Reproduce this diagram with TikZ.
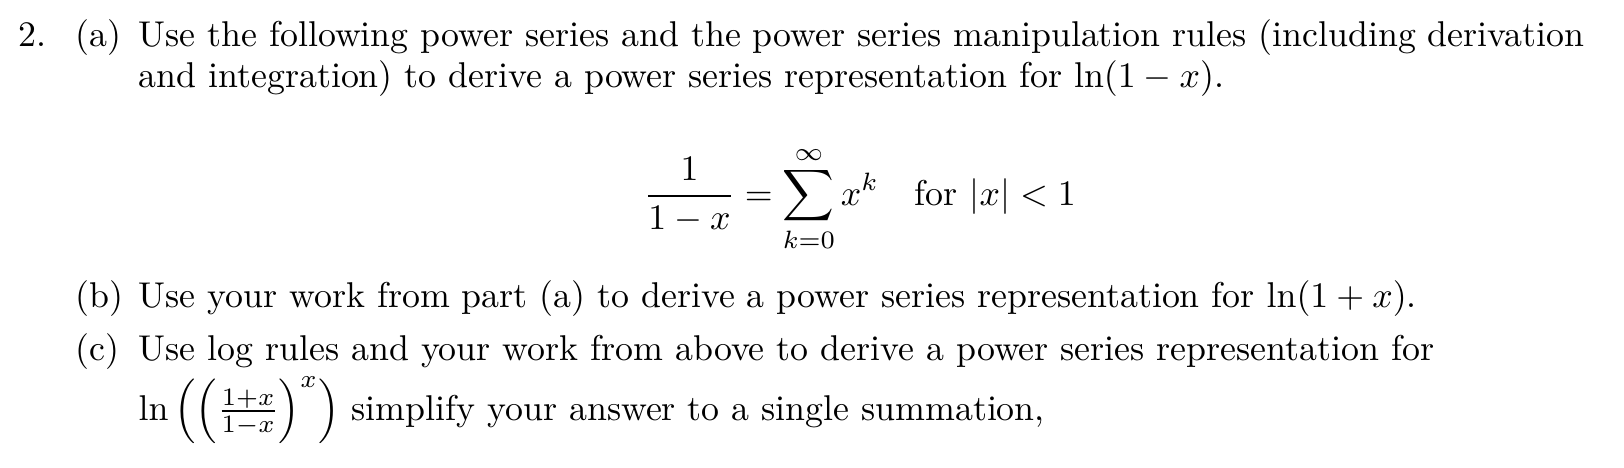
\documentclass[tikz,border=0pt]{standalone}
\usepackage{amsmath}
\begin{document}
\begin{tikzpicture}[x=1pt,y=-1pt,txt/.style={anchor=base west,inner sep=0pt,scale=3.585,transform shape,font=\fontsize{10}{12}\selectfont}]
\useasboundingbox (0,0) rectangle (1624,468);
\node[txt] (n) at (18,47) {2.};
\node[txt] (a) at (75,47) {(a)};
\node[txt] (a1) at (138,47) {Use the following power series and the power series manipulation rules (including derivation};
\node[txt] (a2) at (138,88) {and integration) to derive a power series representation for $\ln(1-x)$.};
\node[txt,anchor=base] (eq) at (860,205) {$\displaystyle \frac{1}{1-x}=\sum_{k=0}^{\infty} x^k \quad \text{for } |x|<1$};
\node[txt] (b) at (75,307) {(b)};
\node[txt] (b1) at (138,307) {Use your work from part (a) to derive a power series representation for $\ln(1+x)$.};
\node[txt] (c) at (75,360) {(c)};
\node[txt] (c1) at (138,360) {Use log rules and your work from above to derive a power series representation for};
\node[txt] (c2) at (138,420) {$\ln\left(\left(\frac{1+x}{1-x}\right)^{x}\right)$ simplify your answer to a single summation,};
\end{tikzpicture}
\end{document}
